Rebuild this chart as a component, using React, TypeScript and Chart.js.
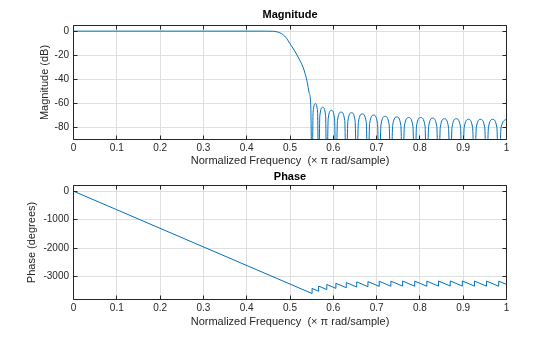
import React, { useEffect, useRef } from "react";
import { Chart, registerables } from "chart.js";

Chart.register(...registerables);

// ---------- data ----------
const xTickValues = [0, 0.1, 0.2, 0.3, 0.4, 0.5, 0.6, 0.7, 0.8, 0.9, 1];
const magTickValues = [-80, -60, -40, -20, 0];
const phaseTickValues = [-3000, -2000, -1000, 0];

// passband + transition band (normalized frequency, dB)
const passFreq = [0, 0.44, 0.46, 0.47, 0.48, 0.49, 0.5, 0.51, 0.52, 0.53, 0.535, 0.54, 0.544, 0.548];
const passDb = [0, 0, -0.1, -0.6, -2, -5, -10.5, -16, -22.5, -30, -35.5, -43, -51, -63];

// stopband: nulls (below axis), shoulders and lobe peaks
const stopFreq = [
  0.551, 0.5533, 0.5585, 0.5637,
  0.566, 0.5689, 0.5755, 0.5822,
  0.585, 0.5882, 0.5955, 0.6029,
  0.606, 0.6096, 0.618, 0.6264,
  0.63, 0.6336, 0.642, 0.6504,
  0.654, 0.6579, 0.667, 0.6761,
  0.68, 0.6839, 0.693, 0.7021,
  0.706, 0.7101, 0.7195, 0.729,
  0.733, 0.7371, 0.7465, 0.756,
  0.76, 0.7642, 0.774, 0.7838,
  0.788, 0.7922, 0.802, 0.8118,
  0.816, 0.8201, 0.8295, 0.839,
  0.843, 0.8471, 0.8565, 0.866,
  0.87, 0.8742, 0.884, 0.8938,
  0.898, 0.9022, 0.912, 0.9218,
  0.926, 0.9302, 0.94, 0.9498,
  0.954, 0.9582, 0.968, 0.9778,
  0.982, 0.9874, 1.0,
];
const stopDb = [
  -130, -67.5, -60.5, -67.5,
  -130, -70.5, -63.5, -70.5,
  -130, -73, -66, -73,
  -130, -74.5, -67.5, -74.5,
  -130, -75, -68, -75,
  -130, -76, -69, -76,
  -130, -77, -70, -77,
  -130, -78, -71, -78,
  -130, -78.5, -71.5, -78.5,
  -130, -79, -72, -79,
  -130, -79, -72, -79,
  -130, -79.5, -72.5, -79.5,
  -130, -80, -73, -80,
  -130, -80, -73, -80,
  -130, -80.5, -73.5, -80.5,
  -130, -80.5, -73.5, -80.5,
  -130, -80.5, -73.5, -80.5,
  -130, -80.5, -73.5,
];

// phase vertices (normalized frequency, degrees)
const phaseFreq = [
  0, 0.551, 0.551, 0.566, 0.566, 0.585, 0.585, 0.606, 0.606, 0.63, 0.63,
  0.654, 0.654, 0.68, 0.68, 0.706, 0.706, 0.733, 0.733, 0.76, 0.76,
  0.788, 0.788, 0.816, 0.816, 0.843, 0.843, 0.87, 0.87, 0.898, 0.898,
  0.926, 0.926, 0.954, 0.954, 0.982, 0.982, 1.0,
];
const phaseDeg = [
  0, -3600, -3420, -3518, -3338, -3462, -3282, -3418, -3238, -3394, -3214,
  -3370, -3190, -3359, -3179, -3348, -3168, -3344, -3164, -3340, -3160,
  -3342, -3162, -3344, -3164, -3340, -3160, -3336, -3156, -3338, -3158,
  -3340, -3160, -3342, -3162, -3344, -3164, -3281,
];

// ---------- styling ----------
const FONT = '"Liberation Sans", Arial, Helvetica, sans-serif';
const BLUE = "#0072BD";
const AXIS = "#262626";
const GRID = "#dfdfdf";
const XLABEL = "Normalized Frequency  (\u00d7 \u03c0 rad/sample)";

const framePlugin = {
  id: "frame",
  afterDatasetsDraw(chart: any, _args: any, opts: any) {
    const { ctx, chartArea: a } = chart;
    const xs = chart.scales.x;
    const ys = chart.scales.y;
    ctx.save();
    ctx.strokeStyle = AXIS;
    ctx.lineWidth = 1;
    ctx.beginPath();
    ctx.rect(a.left, a.top, a.right - a.left, a.bottom - a.top);
    const tl = 4;
    for (const v of opts.xTicks) {
      const p = Math.round(xs.getPixelForValue(v) - 0.5) + 0.5;
      ctx.moveTo(p, a.bottom);
      ctx.lineTo(p, a.bottom - tl);
      ctx.moveTo(p, a.top);
      ctx.lineTo(p, a.top + tl);
    }
    for (const v of opts.yTicks) {
      const p = Math.round(ys.getPixelForValue(v) - 0.5) + 0.5;
      ctx.moveTo(a.left, p);
      ctx.lineTo(a.left + tl, p);
      ctx.moveTo(a.right, p);
      ctx.lineTo(a.right - tl, p);
    }
    ctx.stroke();
    ctx.fillStyle = "#000";
    ctx.font = `bold 11px ${FONT}`;
    ctx.textAlign = "center";
    ctx.textBaseline = "middle";
    ctx.fillText(opts.title, (a.left + a.right) / 2, a.top - opts.titleGap);
    ctx.restore();
  },
};

type PanelOpts = {
  points: { x: number; y: number }[];
  monotone: boolean;
  yMin: number;
  yMax: number;
  yTicks: number[];
  yLabel: string;
  title: string;
  padTop: number;
  xHeight: number;
  xTitlePad: number;
  yTitlePad: number;
  titleGap: number;
};

function buildConfig(p: PanelOpts): any {
  return {
    type: "scatter",
    data: {
      datasets: [
        {
          data: p.points,
          showLine: true,
          borderColor: BLUE,
          borderWidth: 1,
          pointRadius: 0,
          cubicInterpolationMode: p.monotone ? "monotone" : "default",
          tension: 0,
          capBezierPoints: false,
          clip: 0,
        },
      ],
    },
    options: {
      animation: false,
      responsive: false,
      events: [],
      layout: { padding: { top: p.padTop, right: 53.5, left: 0, bottom: 0 } },
      plugins: {
        legend: { display: false },
        tooltip: { enabled: false },
        title: { display: false },
        frame: { title: p.title, titleGap: p.titleGap, xTicks: xTickValues, yTicks: p.yTicks },
      },
      scales: {
        x: {
          type: "linear",
          min: 0,
          max: 1,
          afterBuildTicks: (s: any) => {
            s.ticks = xTickValues.map((v) => ({ value: v }));
          },
          afterFit: (s: any) => {
            s.height = p.xHeight;
          },
          grid: { color: GRID, lineWidth: 1, drawTicks: false },
          border: { display: false },
          ticks: {
            padding: 2.5,
            color: AXIS,
            font: { family: FONT, size: 10 },
            maxRotation: 0,
            autoSkip: false,
            callback: (v: any) => String(v),
          },
          title: {
            display: true,
            text: XLABEL,
            color: AXIS,
            font: { family: FONT, size: 11, lineHeight: 1.2 },
            padding: { top: 0, bottom: p.xTitlePad },
          },
        },
        y: {
          type: "linear",
          min: p.yMin,
          max: p.yMax,
          afterBuildTicks: (s: any) => {
            s.ticks = p.yTicks.map((v) => ({ value: v }));
          },
          afterFit: (s: any) => {
            s.width = 73.5;
          },
          grid: { color: GRID, lineWidth: 1, drawTicks: false },
          border: { display: false },
          ticks: {
            padding: 4.5,
            color: AXIS,
            font: { family: FONT, size: 10 },
            autoSkip: false,
            callback: (v: any) => String(v),
          },
          title: {
            display: true,
            text: p.yLabel,
            color: AXIS,
            font: { family: FONT, size: 11, lineHeight: 1.2 },
            padding: { top: p.yTitlePad, bottom: 0 },
          },
        },
      },
    },
    plugins: [framePlugin],
  };
}

export default function App() {
  const topRef = useRef<HTMLCanvasElement>(null);
  const botRef = useRef<HTMLCanvasElement>(null);

  useEffect(() => {
    const magFreq = passFreq.concat(stopFreq);
    const magDb = passDb.concat(stopDb);
    const magPoints = magFreq.map((x, i) => ({ x, y: magDb[i] }));
    const phasePoints = phaseFreq.map((x, i) => ({ x, y: phaseDeg[i] }));

    const c1 = new Chart(
      topRef.current as HTMLCanvasElement,
      buildConfig({
        points: magPoints,
        monotone: true,
        yMin: -90.3,
        yMax: 4.7,
        yTicks: magTickValues,
        yLabel: "Magnitude (dB)",
        title: "Magnitude",
        padTop: 25.5,
        xHeight: 28.5,
        xTitlePad: 0.4,
        yTitlePad: 38.4,
        titleGap: 10.5,
      })
    );
    const c2 = new Chart(
      botRef.current as HTMLCanvasElement,
      buildConfig({
        points: phasePoints,
        monotone: false,
        yMin: -3810,
        yMax: 200,
        yTicks: phaseTickValues,
        yLabel: "Phase (degrees)",
        title: "Phase",
        padTop: 17.5,
        xHeight: 37.5,
        xTitlePad: 8.4,
        yTitlePad: 25,
        titleGap: 8.5,
      })
    );
    return () => {
      c1.destroy();
      c2.destroy();
    };
  }, []);

  return (
    <div style={{ position: "fixed", left: 0, top: 0, width: 560, height: 337, background: "#fff" }}>
      <canvas ref={topRef} width={560} height={168} style={{ position: "absolute", left: 0, top: 0, display: "block" }} />
      <canvas ref={botRef} width={560} height={169} style={{ position: "absolute", left: 0, top: 168, display: "block" }} />
    </div>
  );
}
